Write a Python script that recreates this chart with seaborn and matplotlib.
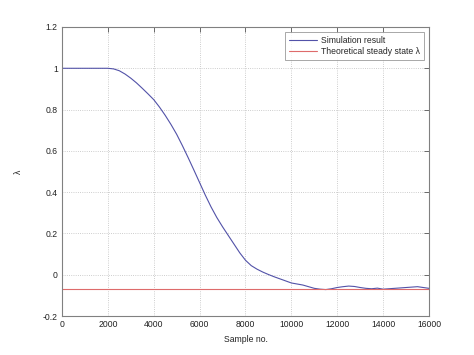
import matplotlib
matplotlib.use("Agg")
import matplotlib.pyplot as plt
import seaborn as sns
import pandas as pd
from matplotlib.ticker import FormatStrFormatter

# ---- data ----
samples = [0, 500, 1000, 1500, 2000, 2250, 2500, 2750, 3000, 3250, 3500, 3750,
           4000, 4250, 4500, 4750, 5000, 5250, 5500, 5750, 6000, 6250, 6500,
           6750, 7000, 7250, 7500, 7750, 8000, 8250, 8500, 8750, 9000, 9250,
           9500, 9750, 10000, 10250, 10500, 10750, 11000, 11250, 11500, 11750,
           12000, 12250, 12500, 12750, 13000, 13250, 13500, 13750, 14000,
           14250, 14500, 14750, 15000, 15250, 15500, 15750, 16000]
lam = [1.0, 1.0, 1.0, 1.0, 1.0, 0.997, 0.988, 0.972, 0.952, 0.929, 0.903, 0.876,
       0.848, 0.812, 0.772, 0.728, 0.680, 0.625, 0.567, 0.507, 0.446, 0.385, 0.328,
       0.277, 0.232, 0.190, 0.148, 0.106, 0.070, 0.044, 0.027, 0.013, 0.001, -0.010,
       -0.020, -0.030, -0.040, -0.045, -0.050, -0.058, -0.066, -0.070, -0.072, -0.068,
       -0.062, -0.058, -0.055, -0.057, -0.062, -0.066, -0.068, -0.065, -0.070,
       -0.068, -0.066, -0.064, -0.062, -0.060, -0.058, -0.062, -0.066]
steady_x = [0, 16000]
steady_y = [-0.07, -0.07]
x_ticks = [0, 2000, 4000, 6000, 8000, 10000, 12000, 14000, 16000]
y_ticks = [-0.2, 0, 0.2, 0.4, 0.6, 0.8, 1.0, 1.2]

sns.set_style("white")
plt.rcParams['font.family'] = ['Liberation Sans', 'DejaVu Sans']

fig = plt.figure(figsize=(4.74, 3.55), dpi=100)
ax = fig.add_axes([62/474, 1-316/355, (429-62)/474, (316-27)/355])

sim = pd.DataFrame({"Sample no.": samples, "lam": lam})
ss = pd.DataFrame({"Sample no.": steady_x, "lam": steady_y})
sns.lineplot(data=sim, x="Sample no.", y="lam", ax=ax, color="#5252a8",
             linewidth=0.8, label="Simulation result")
sns.lineplot(data=ss, x="Sample no.", y="lam", ax=ax, color="#de6b6b",
             linewidth=0.8, label="Theoretical steady state λ")

ax.set_xlim(0, 16000)
ax.set_ylim(-0.2, 1.2)
ax.set_xticks(x_ticks)
ax.set_yticks(y_ticks)
ax.yaxis.set_major_formatter(FormatStrFormatter('%g'))
ax.tick_params(direction='in', length=3.5, width=0.6, colors='#555555',
               labelcolor='#222222', labelsize=6.2, top=True, right=True,
               pad=3)
ax.grid(True, linestyle=':', color='#bdbdbd', linewidth=0.6)
for s in ax.spines.values():
    s.set_color('#808080')
    s.set_linewidth(0.8)
ax.set_xlabel("Sample no.", fontsize=6.2, color='#222222', labelpad=4)
ax.set_ylabel("λ", fontsize=6.2, color='#222222', labelpad=14)

leg = ax.legend(loc='upper right', fontsize=6.2, frameon=True, fancybox=False,
                edgecolor='#808080', handlelength=3.2, borderaxespad=0.6,
                borderpad=0.45, labelspacing=0.25, handletextpad=0.5)
leg.get_frame().set_linewidth(0.6)

fig.savefig("out.png", dpi=100)
